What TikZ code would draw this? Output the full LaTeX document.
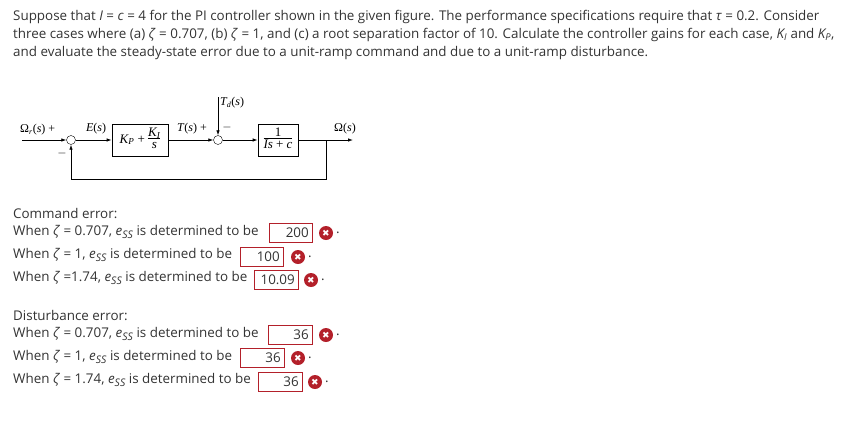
\documentclass[tikz,border=0pt]{standalone}
\usepackage{amsmath}
\usepackage{fontspec}
\setmainfont{Open Sans}
\newfontfamily\dgm{Liberation Serif}
\newfontfamily\djvu{DejaVu Sans}
\usetikzlibrary{arrows.meta}
\definecolor{txt}{HTML}{333333}
\definecolor{bad}{HTML}{B3202A}
\newcommand{\ess}{\textit{e}\raisebox{-0.35ex}{\textit{\fontsize{10.5}{10}\selectfont SS}}}
\newcommand{\zt}{\textit{ζ}}
\newcommand{\dfr}[2]{\begin{tabular}{@{}c@{}}#1\\[-2pt]\hline\rule{0pt}{10pt}#2\end{tabular}}
\begin{document}
\begin{tikzpicture}[x=1pt,y=-1pt,
  txtline/.style={anchor=west,inner sep=0,text=txt,font=\fontsize{13.4}{15}\selectfont},
  ansbox/.style={draw=bad,inner sep=0,anchor=north west,align=right},
  bad icon/.style={circle,fill=bad,minimum size=14pt,inner sep=0,text=white,font=\djvu\bfseries\fontsize{9}{9}\selectfont},
  blk/.style={draw,thick,inner sep=0,font=\dgm\fontsize{13}{13}\selectfont},
  sumc/.style={draw,circle,minimum size=9pt,inner sep=0},
  dl/.style={font=\dgm\fontsize{12}{12}\selectfont,inner sep=0},
  sig/.style={-{Latex[length=5pt,width=3.5pt]},thick}]
\useasboundingbox (0,0) rectangle (853,421);
\node[txtline] (p1) at (13,17) {Suppose that \textit{I} = \textit{c} = 4 for the PI controller shown in the given figure. The performance specifications require that \textit{τ} = 0.2. Consider};
\node[txtline] (p2) at (13,35) {three cases where (a) \zt{} = 0.707, (b) \zt{} = 1, and (c) a root separation factor of 10. Calculate the controller gains for each case, \textit{K\textsubscript{I}} and \textit{K\textsubscript{P}},};
\node[txtline] (p3) at (13,53) {and evaluate the steady-state error due to a unit-ramp command and due to a unit-ramp disturbance.};
% diagram
\coordinate (in) at (22,140);
\node[sumc] (s1) at (71,140) {};
\node[blk,minimum width=56pt,minimum height=32pt] (b1) at (140,140) {\textit{K\textsubscript{P}} + \dfr{\textit{K\textsubscript{I}}}{\textit{s}}};
\node[sumc] (s2) at (218,140) {};
\node[blk,minimum width=40pt,minimum height=32pt] (b2) at (278,140) {\dfr{1}{\textit{Is} + \textit{c}}};
\coordinate (br) at (326,140);
\coordinate (out) at (353,140);
\coordinate (td) at (218,97);
\draw[sig] (in) -- (s1);
\draw[sig] (s1) -- (b1);
\draw[sig] (b1) -- (s2);
\draw[sig] (s2) -- (b2);
\draw[sig] (b2) -- (out);
\draw[sig] (td) -- (s2);
\draw[sig] (br) |- (71,179) -- (s1);
\node[dl,anchor=west] (l1) at (20,130) {Ω\textsubscript{\textit{r}}(\textit{s}) +};
\node[dl] (l2) at (96,129) {\textit{E}(\textit{s})};
\node[dl] (l3) at (192,129) {\textit{T}(\textit{s}) +};
\node[dl] (l4) at (227,127) {$-$};
\node[dl] (l5) at (62,153) {$-$};
\node[dl] (l6) at (345,129) {Ω(\textit{s})};
\node[dl,anchor=west] (l7) at (220,103) {\textit{T\textsubscript{d}}(\textit{s})};
% answers
\node[txtline] (c0) at (13,213) {Command error:};
\node[txtline] (c1) at (13,232) {When \zt{} = 0.707, \ess{} is determined to be};
\node[txtline] (c2) at (13,255) {When \zt{} = 1, \ess{} is determined to be};
\node[txtline] (c3) at (13,278) {When \zt{} =1.74, \ess{} is determined to be};
\node[txtline] (d0) at (13,315) {Disturbance error:};
\node[txtline] (d1) at (13,334) {When \zt{} = 0.707, \ess{} is determined to be};
\node[txtline] (d2) at (13,357) {When \zt{} = 1, \ess{} is determined to be};
\node[txtline] (d3) at (13,380) {When \zt{} = 1.74, \ess{} is determined to be};
\foreach \n/\x/\y/\w/\v/\ic in {a/269/223/43/200/326, b/240/247/43/100/298, c/254/270/44/10.09/311, d/268/325/44/36/326, e/240/348/44/36/298, f/258/372/44/36/315}{
  \node[ansbox,minimum width=\w pt,minimum height=19pt] (box\n) at (\x,\y) {};
  \node[txtline,anchor=east] (v\n) at (\x+\w-3,\y+9.5) {\v};
  \node[bad icon] (i\n) at (\ic,\y+10) {✖};
  \node[txtline] (dot\n) at (\ic+10,\y+10) {.};
}
\end{tikzpicture}
\end{document}
